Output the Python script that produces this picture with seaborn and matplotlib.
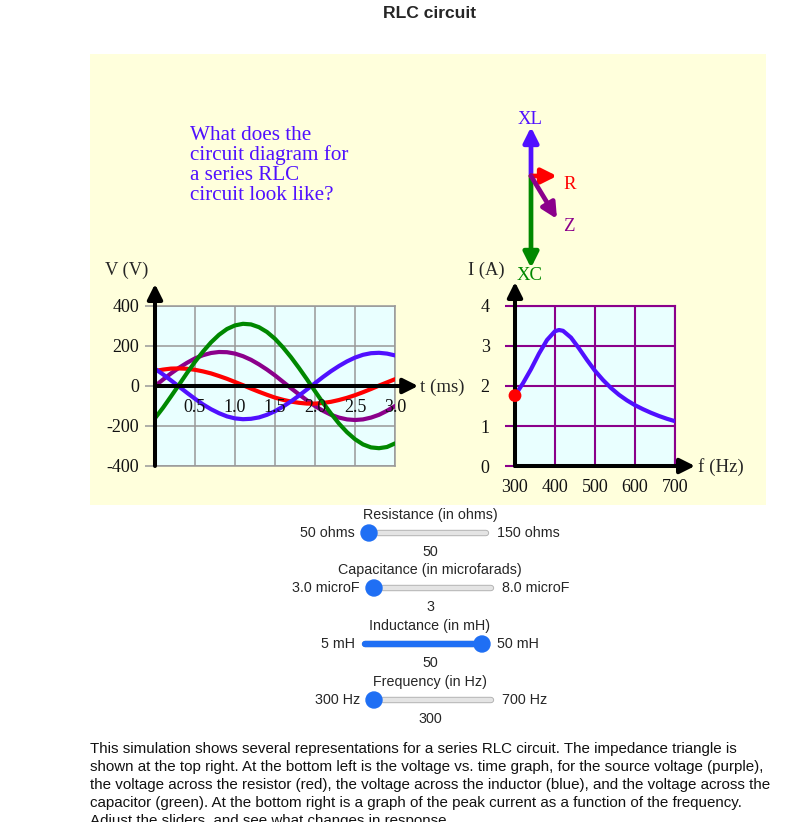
import pandas as pd
import seaborn as sns
import matplotlib.pyplot as plt
from matplotlib.patches import Rectangle, Circle

# voltage vs time at f = 300 Hz, every 0.1 ms
t_ms = [0.0, 0.1, 0.2, 0.3, 0.4, 0.5, 0.6, 0.7, 0.8, 0.9, 1.0,
        1.1, 1.2, 1.3, 1.4, 1.5, 1.6, 1.7, 1.8, 1.9, 2.0,
        2.1, 2.2, 2.3, 2.4, 2.5, 2.6, 2.7, 2.8, 2.9, 3.0]
v_source = [0, 32, 63, 91, 116, 138, 154, 165, 170, 169, 162,
            149, 131, 108, 82, 53, 21, -11, -42, -72, -100,
            -124, -144, -158, -167, -170, -167, -158, -144, -124, -100]
v_resistor = [75, 82, 87, 88, 86, 81, 73, 63, 50, 36, 20,
              4, -13, -29, -44, -58, -69, -78, -84, -88, -88,
              -85, -79, -70, -59, -46, -31, -15, 2, 18, 34]
v_inductor = [86, 58, 28, -3, -34, -64, -92, -116, -136, -152, -162,
              -166, -164, -157, -144, -126, -103, -77, -48, -17, 14,
              45, 74, 100, 123, 142, 156, 164, 166, 162, 153]
v_capacitor = [-161, -109, -52, 6, 65, 121, 172, 218, 256, 285, 303,
               311, 308, 294, 270, 236, 193, 144, 90, 33, -26,
               -84, -138, -188, -231, -266, -292, -307, -311, -305, -287]

# peak current vs frequency (right graph)
freq_hz = [300, 320, 340, 360, 380, 400, 410, 420, 440, 460, 480,
           500, 520, 540, 560, 580, 600, 620, 640, 660, 680, 700]
current_a = [1.76, 2.07, 2.42, 2.81, 3.15, 3.37, 3.40, 3.38, 3.21, 2.94, 2.65,
             2.38, 2.15, 1.95, 1.78, 1.64, 1.52, 1.42, 1.33, 1.25, 1.18, 1.12]
f_now = 300
i_now = 1.76

# impedance triangle (ohms)
r_ohm = 50
xl_ohm = 94.2
xc_ohm = 176.8

v_ticks = [-400, -200, 0, 200, 400]
t_ticks = [0.5, 1.0, 1.5, 2.0, 2.5, 3.0]
t_tick_labels = ["0.5", "1.0", "1.5", "2.0", "2.5", "3.0"]
f_ticks = [300, 400, 500, 600, 700]
i_ticks = [0, 1, 2, 3, 4]

slider_titles = ["Resistance (in ohms)", "Capacitance (in microfarads)",
                 "Inductance (in mH)", "Frequency (in Hz)"]
slider_min_labels = ["50 ohms", "3.0 microF", "5 mH", "300 Hz"]
slider_max_labels = ["150 ohms", "8.0 microF", "50 mH", "700 Hz"]
slider_min = [50, 3.0, 5, 300]
slider_max = [150, 8.0, 50, 700]
slider_value = [50, 3.0, 50, 300]
slider_value_text = ["50", "3", "50", "300"]

question = ["What does the", "circuit diagram for", "a series RLC", "circuit look like?"]
caption = [
    "This simulation shows several representations for a series RLC circuit. The impedance triangle is",
    "shown at the top right. At the bottom left is the voltage vs. time graph, for the source voltage (purple),",
    "the voltage across the resistor (red), the voltage across the inductor (blue), and the voltage across the",
    "capacitor (green). At the bottom right is a graph of the peak current as a function of the frequency.",
    "Adjust the sliders, and see what changes in response.",
]

BLUE = "#5010ff"
PURPLE = "#8b008b"
RED = "#ff0000"
GREEN = "#008800"
CYAN = "#e9ffff"
YELLOW = "#ffffdc"
GRAY = "#999999"
KNOB = "#1f6ff4"
SANS = ["Liberation Sans", "DejaVu Sans"]

sns.set_style("white")
plt.rcParams["font.family"] = ["Liberation Serif", "DejaVu Serif"]

W, H = 788, 822
fig = plt.figure(figsize=(W / 100, H / 100), dpi=100)


def px_axes(x0, y0, x1, y1):
    return fig.add_axes([x0 / W, 1 - y1 / H, (x1 - x0) / W, (y1 - y0) / H])


def axis_arrow(ax, start, end, lw=2.9, color="black", z=5):
    ax.annotate("", xy=end, xytext=start, annotation_clip=False, zorder=z,
                arrowprops=dict(arrowstyle="-|>,head_length=0.9,head_width=0.45",
                                mutation_scale=10, lw=lw, color=color,
                                shrinkA=0, shrinkB=0))


# page background in pixel units
bg = px_axes(0, 0, W, H)
bg.set_xlim(0, W)
bg.set_ylim(H, 0)
bg.axis("off")
bg.add_patch(Rectangle((90, 54), 676, 451, color=YELLOW, lw=0))
bg.text(430, 13, "RLC circuit", ha="center", va="center", fontsize=12.6,
        fontweight="bold", family=SANS)

for k, line in enumerate(question):
    bg.text(190, 140 + 20 * k, line, color=BLUE, fontsize=15.2, va="baseline")

bg.text(105, 275, "V (V)", fontsize=13.3, va="baseline")
bg.text(468, 275, "I (A)", fontsize=13.3, va="baseline")
bg.text(420, 387, "t (ms)", fontsize=13.6, va="center")
bg.text(698, 467, "f (Hz)", fontsize=13.6, va="center")
bg.text(530, 124, "XL", color=BLUE, fontsize=13.5, ha="center", va="baseline")
bg.text(530, 280, "XC", color=GREEN, fontsize=13.5, ha="center", va="baseline")
bg.text(570, 189, "R", color=RED, fontsize=13.5, ha="center", va="baseline")
bg.text(569, 231, "Z", color=PURPLE, fontsize=13.5, ha="center", va="baseline")

# sliders
slider_left = [361, 366, 361, 366]
slider_y = [533, 588, 644, 700]
for k in range(4):
    left, y = slider_left[k], slider_y[k]
    frac = (slider_value[k] - slider_min[k]) / (slider_max[k] - slider_min[k])
    kx = left + 8 + frac * 113
    bg.plot([left + 4, left + 125], [y, y], color="#b4b4b4", lw=4.6,
            solid_capstyle="round", zorder=2)
    bg.plot([left + 4, left + 125], [y, y], color="#e4e4e4", lw=3.2,
            solid_capstyle="round", zorder=2)
    if frac > 0:
        bg.plot([left + 4, kx], [y, y], color=KNOB, lw=4.6,
                solid_capstyle="round", zorder=3)
    bg.add_patch(Circle((kx, y), 8, color=KNOB, zorder=4))
    bg.text(left - 6, y, slider_min_labels[k], ha="right", va="center",
            fontsize=10.3, family=SANS)
    bg.text(left + 136, y, slider_max_labels[k], ha="left", va="center",
            fontsize=10.3, family=SANS)
    bg.text(430, y - 18, slider_titles[k], ha="center", va="center",
            fontsize=10.3, family=SANS)
    bg.text(430, y + 19, slider_value_text[k], ha="center", va="center",
            fontsize=10.3, family=SANS)

for k, line in enumerate(caption):
    bg.text(90, 749 + 18 * k, line, ha="left", va="center", fontsize=10.9,
            family=SANS, color="#111111")

# voltage vs time
volts = pd.DataFrame({
    "t": t_ms * 4,
    "V": v_source + v_resistor + v_inductor + v_capacitor,
    "part": ["source"] * 31 + ["R"] * 31 + ["L"] * 31 + ["C"] * 31,
})
ax1 = px_axes(155, 306, 395, 466)
ax1.set_facecolor(CYAN)
sns.lineplot(data=volts, x="t", y="V", hue="part",
             hue_order=["source", "R", "L", "C"],
             palette={"source": PURPLE, "R": RED, "L": BLUE, "C": GREEN},
             lw=3, legend=False, ax=ax1, zorder=3)
ax1.set_xlim(0, 3)
ax1.set_ylim(-400, 400)
ax1.set_xticks(t_ticks)
ax1.set_yticks(v_ticks)
ax1.set_yticklabels([str(v) for v in v_ticks])
ax1.tick_params(axis="x", length=0, labelbottom=False)
ax1.tick_params(axis="y", left=True, length=7.2, width=1.1, color=GRAY,
                pad=4, labelsize=13, labelcolor="#111111")
ax1.grid(True, color=GRAY, lw=1.1)
ax1.set_axisbelow(True)
ax1.set_xlabel("")
ax1.set_ylabel("")
ax1.spines["left"].set_visible(False)
for s in ["top", "right", "bottom"]:
    ax1.spines[s].set_color(GRAY)
    ax1.spines[s].set_linewidth(1.1)
for t, lab in zip(t_ticks, t_tick_labels):
    ax1.annotate(lab, (t, 0), xytext=(0, -9.5), textcoords="offset points",
                 ha="center", va="top", fontsize=13, color="#111111",
                 zorder=6, annotation_clip=False)
axis_arrow(ax1, (0, -400), (0, 510))
axis_arrow(ax1, (0, 0), (3.29, 0))

# current vs frequency
ax2 = px_axes(515, 306, 675, 466)
ax2.set_facecolor(CYAN)
sns.lineplot(x=freq_hz, y=current_a, color=BLUE, lw=3, ax=ax2, zorder=3)
sns.scatterplot(x=[f_now], y=[i_now], color=RED, s=85, edgecolor="none",
                ax=ax2, zorder=7, clip_on=False)
ax2.set_xlim(300, 700)
ax2.set_ylim(0, 4)
ax2.set_xticks(f_ticks)
ax2.set_yticks(i_ticks)
ax2.tick_params(axis="x", length=0, pad=9, labelsize=13, labelcolor="#111111")
ax2.tick_params(axis="y", left=True, length=7.2, width=1.5, color=PURPLE,
                pad=11, labelsize=13, labelcolor="#111111")
ax2.grid(True, color=PURPLE, lw=1.5)
ax2.set_axisbelow(True)
for s in ["left", "bottom"]:
    ax2.spines[s].set_visible(False)
for s in ["top", "right"]:
    ax2.spines[s].set_color(PURPLE)
    ax2.spines[s].set_linewidth(1.5)
axis_arrow(ax2, (300, 0), (300, 4.6))
axis_arrow(ax2, (300, 0), (750, 0))

# impedance triangle
ax3 = px_axes(505, 113.6, 583, 280)
ax3.set_xlim(-50, 100)
ax3.set_ylim(-200, 120)
ax3.axis("off")
axis_arrow(ax3, (0, 0), (0, xl_ohm), lw=3.4, color=BLUE)
axis_arrow(ax3, (0, 0), (0, -xc_ohm), lw=3.4, color=GREEN)
axis_arrow(ax3, (0, 0), (r_ohm, 0), lw=3.4, color=RED)
axis_arrow(ax3, (0, 0), (r_ohm, xl_ohm - xc_ohm), lw=3.4, color=PURPLE)

fig.savefig("out.png", dpi=100)
